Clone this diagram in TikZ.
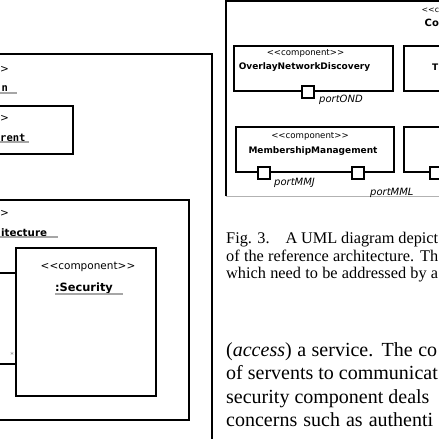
\documentclass[tikz,border=0pt]{standalone}
\usepackage{fontspec}
\setmainfont{Liberation Serif}
\newfontfamily\umlsans{DejaVu Sans}[BoldFont=DejaVu Sans Bold,ItalicFont=DejaVu Sans Oblique]
\newfontfamily\umlmono{DejaVu Sans Mono}[BoldFont=DejaVu Sans Mono Bold]
\usepackage{tikz}
\usetikzlibrary{positioning,calc}
\newcommand\ster[1]{<\kern0pt<#1>\kern0pt>}

\begin{document}
\begin{tikzpicture}[x=1pt,y=-1pt,
  frame/.style={draw,inner sep=0pt,line width=2.5pt},
  comp/.style={draw,inner sep=0pt,line width=2pt},
  port/.style={draw,fill=white,inner sep=0pt,minimum size=12pt,line width=1.6pt},
  stereo/.style={inner sep=0pt,font=\umlsans\fontsize{8.6}{10}\selectfont},
  lstereo/.style={inner sep=0pt,font=\umlsans\fontsize{10.5}{12}\selectfont},
  cname/.style={inner sep=0pt,font=\umlsans\bfseries\fontsize{9}{11}\selectfont},
  lname/.style={inner sep=0pt,anchor=west,font=\umlmono\bfseries\fontsize{10.5}{12}\selectfont},
  pname/.style={inner sep=0pt,anchor=west,font=\umlsans\itshape\fontsize{10}{12}\selectfont},
  uline/.style={draw=gray!70,line width=1.4pt},
  link/.style={line width=1.5pt},
  captxt/.style={inner sep=0pt,anchor=base west,font=\fontsize{16.3}{18}\selectfont},
  bodytxt/.style={inner sep=0pt,anchor=base west,font=\fontsize{20}{24}\selectfont}]
  \useasboundingbox (0,0) rectangle (439,439);
  \clip (0,0) rectangle (439,439);
  \fill[white] (0,0) rectangle (439,439);

  % left figure
  \node[frame,minimum width=232pt,minimum height=420pt] (appbox) at (96,264) {};
  \node[lstereo,anchor=west] (appst) at (0,69) {>};
  \node[lname] (appname) at (1.5,89) {n};
  \draw[uline] (-2,93) -- (17,93);

  \node[comp,line width=2.2pt,minimum width=93pt,minimum height=48pt] (servbox) at (26.5,130) {};
  \node[lstereo,anchor=west] (servst) at (0,118) {>};
  \node[lname] (servname) at (0,138) {rent};
  \draw[uline] (-2,142) -- (29,142);

  \node[comp,line width=1.8pt,minimum width=209pt,minimum height=220pt] (archbox) at (84.5,310) {};
  \node[lstereo,anchor=west] (archst) at (0,213) {>};
  \node[lstereo,anchor=west,font=\umlsans\bfseries\fontsize{10.3}{12}\selectfont] (archname) at (1,233) {itecture};
  \draw[uline] (-2,237) -- (58,237);

  \node[comp,line width=2.2pt,minimum width=140pt,minimum height=148pt] (secbox) at (86,322) {};
  \node[lstereo] (secst) at (88,267) {\ster{component}};
  \node[lstereo,font=\umlsans\bfseries\fontsize{11.4}{13}\selectfont] (secname) at (84,288) {:Security};
  \draw[uline] ([yshift=-3pt]secname.base west) -- ([xshift=10pt,yshift=-3pt]secname.base east);

  \coordinate (inA) at (-5,273);
  \coordinate (inB) at (-5,364);
  \draw[link] (inA) -- (inA -| secbox.west);
  \draw[link] (inB) -- (inB -| secbox.west);
  \node[inner sep=0pt,text=gray,font=\umlsans\fontsize{7}{8}\selectfont] (mult) at (12,355) {*};

  % right figure
  \node[inner sep=0pt,minimum width=244pt,minimum height=195pt] (sysbox) at (348,98.5) {};
  \draw[line width=2.5pt] (sysbox.south west) -- (sysbox.north west) -- (sysbox.north east);
  \draw[gray!60,line width=1pt] (sysbox.south west) -- (sysbox.south east);
  \node[stereo,anchor=west,font=\umlsans\fontsize{7.8}{9}\selectfont] (sysst) at (421.5,10) {<\kern0pt<c};
  \node[cname,anchor=west,font=\umlsans\bfseries\fontsize{10}{12}\selectfont] (sysname) at (424.5,23) {Co};

  \node[comp,minimum width=159pt,minimum height=45pt] (ondbox) at (313.5,68.5) {};
  \node[stereo] (ondst) at (305.5,53) {\ster{component}};
  \node[cname] (ondname) at (304.5,67) {OverlayNetworkDiscovery};
  \node[port] (pond) at ([xshift=-5.5pt]ondbox.south) {};
  \node[pname] (pondlbl) at (319,100) {portOND};

  \node[comp,minimum width=76pt,minimum height=45pt] (tbox) at (442,68.5) {};
  \node[cname,anchor=west] (tname) at (432,67) {T};

  \node[comp,minimum width=158pt,minimum height=45pt] (mmbox) at (315,149.5) {};
  \node[stereo] (mmst) at (310,136) {\ster{component}};
  \node[cname] (mmname) at (313,151) {MembershipManagement};
  \node[port] (pmmj) at ([xshift=-51pt]mmbox.south) {};
  \node[port] (pmml) at ([xshift=43pt]mmbox.south) {};
  \node[pname] (pmmjlbl) at (274,183) {portMMJ};
  \node[pname] (pmmllbl) at (370,193) {portMML};

  \node[comp,minimum width=76pt,minimum height=45pt] (m2box) at (442,149.5) {};
  \node[port] (pm2) at ([xshift=-6pt]m2box.south) {};

  % caption and text
  \node[captxt] (cap1) at (226,243) {\makebox[212pt][s]{Fig. 3.\hspace{16pt}A UML diagram depict}};
  \node[captxt] (cap2) at (226,261) {\makebox[212pt][s]{of the reference architecture. Th}};
  \node[captxt] (cap3) at (226,278) {\makebox[212pt][s]{which need to be addressed by a}};
  \node[bodytxt] (body1) at (226,356) {\makebox[211pt][s]{(\textit{access}) a service. The co}};
  \node[bodytxt] (body2) at (226,379.5) {of servents to communicat};
  \node[bodytxt] (body3) at (226,403) {security component deals};
  \node[bodytxt] (body4) at (226,426.5) {\makebox[207pt][s]{concerns such as authenti}};
\end{tikzpicture}
\end{document}
